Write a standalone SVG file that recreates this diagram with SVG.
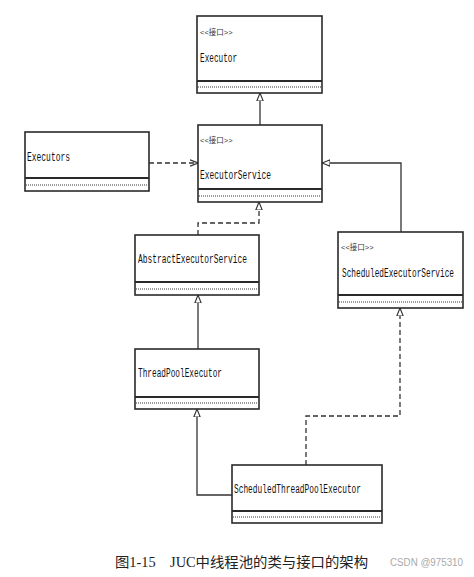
<svg xmlns="http://www.w3.org/2000/svg" width="474" height="577" viewBox="0 0 474 577">
<style>
.box{fill:#fff;stroke:#2a2a2a;stroke-width:1.6}
.div{stroke:#2a2a2a;stroke-width:2}
.hat{stroke:#9a9a9a;stroke-width:2;stroke-dasharray:1,1}
.name{font-family:"Liberation Mono",monospace;font-size:12px;fill:#111}
.st{font-family:"Liberation Sans","Noto Sans CJK SC",sans-serif;font-size:7.5px;fill:#333}
.c{fill:none;stroke:#333;stroke-width:1.3}
.d{stroke-dasharray:5,3}
</style>
<defs>
<marker id="tri" viewBox="0 0 10 10" refX="10" refY="5" markerWidth="8" markerHeight="8" markerUnits="userSpaceOnUse" orient="auto">
<path d="M0,1 L10,5 L0,9 z" fill="#fff" stroke="#333" stroke-width="1.4"/>
</marker>
<marker id="open" viewBox="0 0 10 10" refX="10" refY="5" markerWidth="8" markerHeight="8" markerUnits="userSpaceOnUse" orient="auto">
<path d="M0,1 L10,5 L0,9" fill="none" stroke="#333" stroke-width="1.6"/>
</marker>
</defs>
<rect width="474" height="577" fill="#fff"/>
<g id="connectors">
<path class="c" d="M260,125 V93" marker-end="url(#tri)"/>
<path class="c d" d="M149,163 H198" marker-end="url(#open)"/>
<path class="c" d="M401,232 V163 H322" marker-end="url(#tri)"/>
<path class="c d" d="M198,235 V223 H259 V202" marker-end="url(#tri)"/>
<path class="c" d="M198,349 V295" marker-end="url(#tri)"/>
<path class="c" d="M232,495 H197 V409" marker-end="url(#tri)"/>
<path class="c d" d="M306,465 V416 H400 V308" marker-end="url(#tri)"/>
</g>
<g id="executor">
<rect class="box" x="197" y="16" width="125" height="77"/>
<line class="div" x1="197" y1="81" x2="322" y2="81"/>
<line class="hat" x1="198" y1="87" x2="321" y2="87"/>
<text class="st" x="200" y="35">&lt;&lt;接口&gt;&gt;</text>
<text class="name" x="200" y="62" textLength="37" lengthAdjust="spacingAndGlyphs">Executor</text>
</g>
<g id="executors">
<rect class="box" x="25" y="132" width="124" height="59"/>
<line class="div" x1="25" y1="178" x2="149" y2="178"/>
<line class="hat" x1="26" y1="185" x2="148" y2="185"/>
<text class="name" x="27" y="161" textLength="43" lengthAdjust="spacingAndGlyphs">Executors</text>
</g>
<g id="executorService">
<rect class="box" x="198" y="125" width="124" height="77"/>
<line class="div" x1="198" y1="189" x2="322" y2="189"/>
<line class="hat" x1="199" y1="196" x2="321" y2="196"/>
<text class="st" x="200" y="143">&lt;&lt;接口&gt;&gt;</text>
<text class="name" x="200" y="179" textLength="71" lengthAdjust="spacingAndGlyphs">ExecutorService</text>
</g>
<g id="abstractExecutorService">
<rect class="box" x="135" y="235" width="124" height="60"/>
<line class="div" x1="135" y1="282" x2="259" y2="282"/>
<line class="hat" x1="136" y1="289" x2="258" y2="289"/>
<text class="name" x="138" y="263" textLength="109" lengthAdjust="spacingAndGlyphs">AbstractExecutorService</text>
</g>
<g id="scheduledExecutorService">
<rect class="box" x="338" y="232" width="125" height="76"/>
<line class="div" x1="338" y1="295" x2="463" y2="295"/>
<line class="hat" x1="339" y1="302" x2="462" y2="302"/>
<text class="st" x="341" y="250">&lt;&lt;接口&gt;&gt;</text>
<text class="name" x="342" y="277" textLength="112" lengthAdjust="spacingAndGlyphs">ScheduledExecutorService</text>
</g>
<g id="threadPoolExecutor">
<rect class="box" x="135" y="349" width="124" height="60"/>
<line class="div" x1="135" y1="397" x2="259" y2="397"/>
<line class="hat" x1="136" y1="403" x2="258" y2="403"/>
<text class="name" x="138" y="377" textLength="84" lengthAdjust="spacingAndGlyphs">ThreadPoolExecutor</text>
</g>
<g id="scheduledThreadPoolExecutor">
<rect class="box" x="232" y="465" width="150" height="58"/>
<line class="div" x1="232" y1="511" x2="382" y2="511"/>
<line class="hat" x1="233" y1="517" x2="381" y2="517"/>
<text class="name" x="234" y="493" textLength="127" lengthAdjust="spacingAndGlyphs">ScheduledThreadPoolExecutor</text>
</g>
<text x="115" y="567" font-family="'Liberation Serif','Noto Sans CJK SC',serif" font-size="14" fill="#222" textLength="253" lengthAdjust="spacingAndGlyphs">图1-15　JUC中线程池的类与接口的架构</text>
<text x="390" y="566" font-family="'Liberation Sans',sans-serif" font-size="10" fill="#aaa" textLength="73" lengthAdjust="spacingAndGlyphs">CSDN @975310</text>
</svg>
